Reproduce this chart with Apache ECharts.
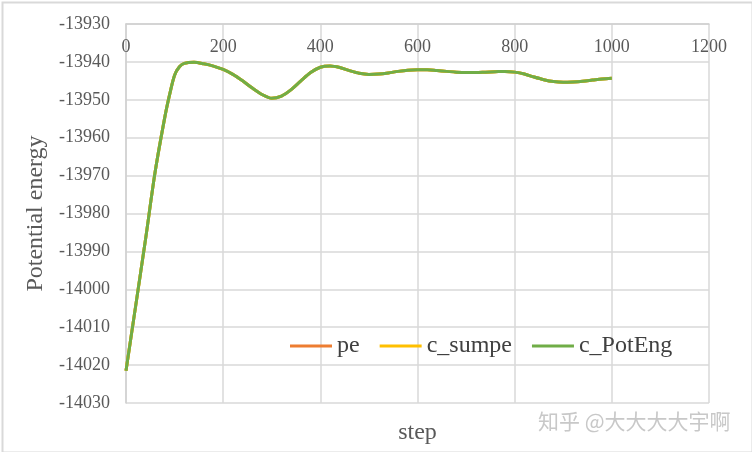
<!DOCTYPE html>
<html>
<head>
<meta charset="utf-8">
<script src="https://cdn.jsdelivr.net/npm/echarts@6/dist/echarts.min.js"></script>
<style>
html,body{margin:0;padding:0;background:#fff;}
#c{width:752px;height:452px;}
</style>
</head>
<body>
<div id="c"></div>
<script>
var steps = [0,20,40,60,80,90,100,110,120,140,160,180,200,220,240,260,280,300,320,340,360,380,400,420,440,460,480,500,520,540,560,580,600,620,640,660,680,700,720,740,760,780,800,820,840,860,880,900,920,940,960,980,1000];
var potEng = [-14021.5,-14004.3,-13987,-13969,-13954.5,-13948.5,-13943.5,-13941.3,-13940.4,-13940.1,-13940.5,-13941.1,-13942,-13943.3,-13945,-13946.9,-13948.6,-13949.6,-13949,-13947.3,-13945,-13942.8,-13941.4,-13941.1,-13941.5,-13942.3,-13943,-13943.3,-13943.2,-13942.9,-13942.5,-13942.2,-13942.1,-13942.1,-13942.3,-13942.5,-13942.7,-13942.8,-13942.8,-13942.7,-13942.6,-13942.5,-13942.7,-13943.2,-13944,-13944.7,-13945.2,-13945.4,-13945.3,-13945.1,-13944.8,-13944.5,-13944.3];
var pe = potEng.slice();
var sumpe = potEng.slice();
var seriesNames = ['pe','c_sumpe','c_PotEng'];
var xTicks = {min:0, max:1200, interval:200};
var yTicks = {min:-14030, max:-13930, interval:10};

function pairs(v){ return steps.map(function(s,i){ return [s, v[i]]; }); }
function plain(v){ return String(v); }
var serif = 'Liberation Serif';
var chart = echarts.init(document.getElementById('c'));
chart.setOption({
  animation:false,
  backgroundColor:'#fff',
  color:['#ED7D31','#FFC000','#70AD47'],
  grid:{left:126, top:24, right:43, bottom:49},
  legend:{
    data:seriesNames, left:285, top:329, icon:'rect', itemWidth:42, itemHeight:3, itemGap:20,
    textStyle:{fontFamily:serif, fontSize:24, color:'#404040'}
  },
  xAxis:[{
    type:'value', position:'top', min:xTicks.min, max:xTicks.max, interval:xTicks.interval,
    axisLine:{show:true, lineStyle:{color:'#d0d0d0', width:1.5}},
    axisTick:{show:false},
    axisLabel:{inside:true, margin:14, fontFamily:serif, fontSize:18, color:'#595959', formatter:plain},
    splitLine:{show:true, lineStyle:{color:'#d9d9d9', width:1.5}}
  },{
    type:'value', position:'bottom', min:xTicks.min, max:xTicks.max,
    axisLine:{show:false}, axisTick:{show:false}, axisLabel:{show:false}, splitLine:{show:false},
    name:'step', nameLocation:'middle', nameGap:18,
    nameTextStyle:{fontFamily:serif, fontSize:24, color:'#595959'}
  }],
  yAxis:{
    type:'value', min:yTicks.min, max:yTicks.max, interval:yTicks.interval,
    axisLine:{show:true, lineStyle:{color:'#d0d0d0', width:1.5}},
    axisTick:{show:false},
    axisLabel:{margin:16, fontFamily:serif, fontSize:18, color:'#595959', formatter:plain},
    splitLine:{show:true, lineStyle:{color:'#d9d9d9', width:1.5}},
    name:'Potential energy', nameLocation:'middle', nameGap:76,
    nameTextStyle:{fontFamily:serif, fontSize:24, color:'#595959'}
  },
  series:[
    {name:seriesNames[0], type:'line', data:pairs(pe), smooth:0.3, showSymbol:false, symbol:'none', lineStyle:{width:3}},
    {name:seriesNames[1], type:'line', data:pairs(sumpe), smooth:0.3, showSymbol:false, symbol:'none', lineStyle:{width:3}},
    {name:seriesNames[2], type:'line', data:pairs(potEng), smooth:0.3, showSymbol:false, symbol:'none', lineStyle:{width:3}}
  ],
  graphic:[
    {type:'rect', left:0, top:0, shape:{x:1, y:1, width:750, height:450}, style:{fill:'none', stroke:'#d9d9d9', lineWidth:2}, silent:true},
    {type:'text', left:538, top:411, style:{text:'知乎 @大大大大宇啊', font:'21px "Noto Sans CJK SC"', fill:'#c8c8c8'}, silent:true}
  ]
});
</script>
</body>
</html>
